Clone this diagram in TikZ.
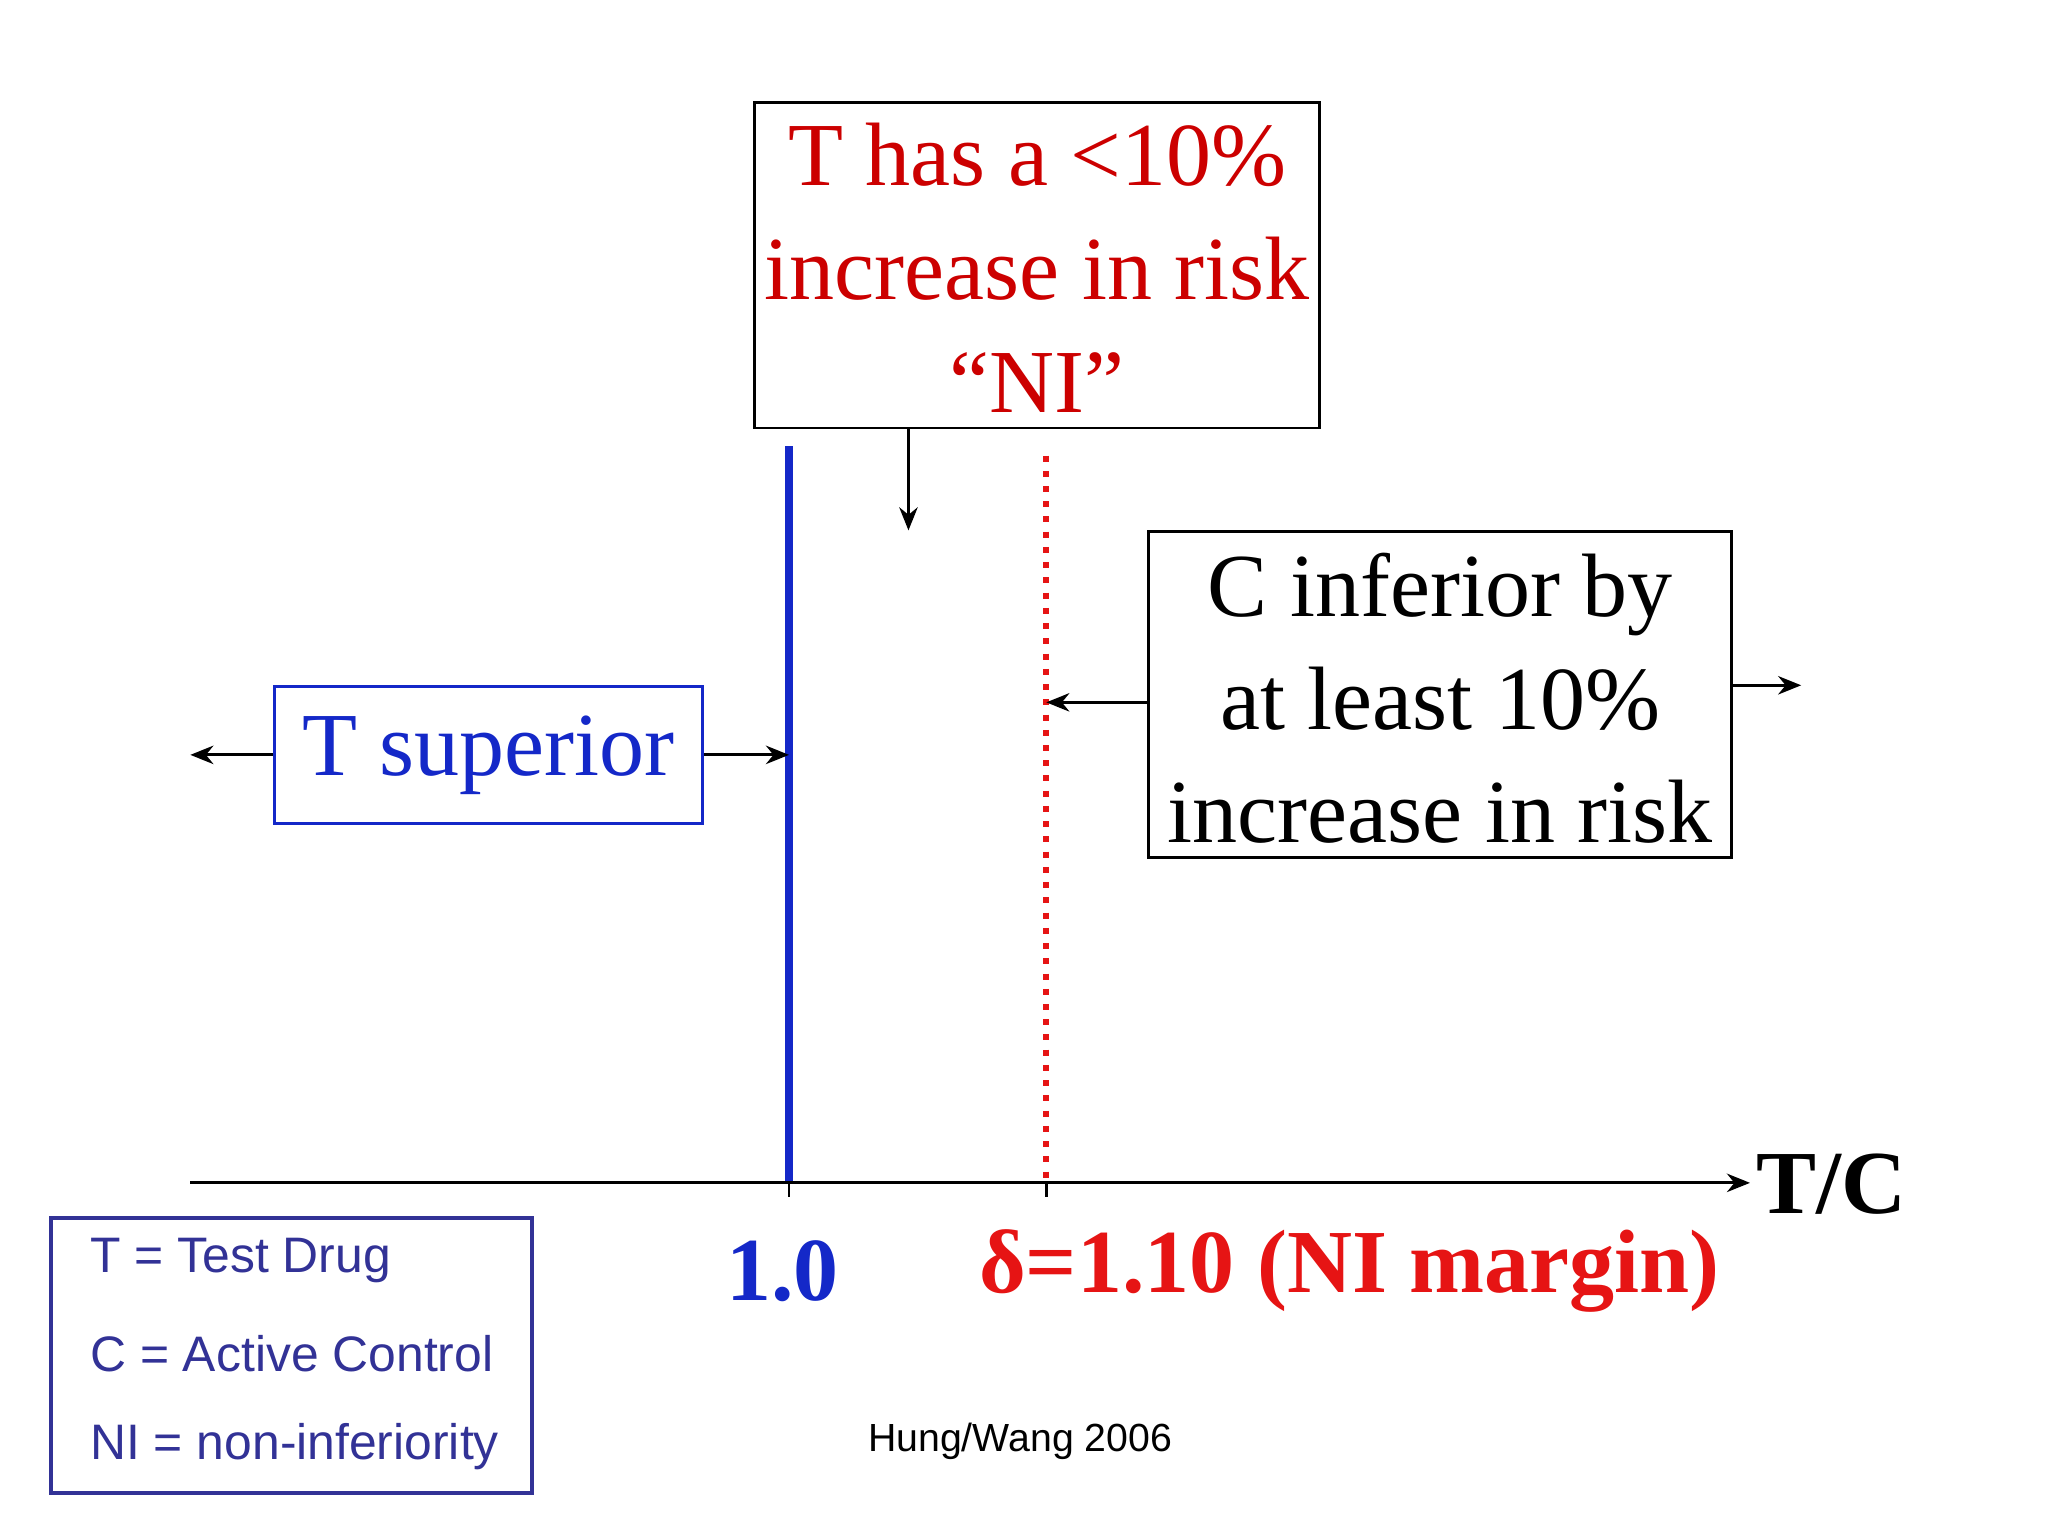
\documentclass[tikz,border=0pt]{standalone}
\usepackage{fontspec}
\usetikzlibrary{arrows.meta}
\setmainfont{Liberation Serif}
\setsansfont{Liberation Sans}
\begin{document}
\begin{tikzpicture}[x=0.01cm,y=-0.01cm,
  arr/.style={-{Stealth[length=5pt,width=4pt]},line width=0.6pt},
  bigtxt/.style={font=\fontsize{19.5}{24.5}\selectfont,align=center,inner sep=0pt}]
\definecolor{myred}{RGB}{204,0,0}
\definecolor{brred}{RGB}{230,20,20}
\definecolor{myblue}{RGB}{20,40,200}
\definecolor{legblue}{RGB}{50,50,150}
\useasboundingbox (0,0) rectangle (1560,1170);
% top box
\draw[line width=0.6pt] (575,78) rectangle (1005,326);
\node[bigtxt,text=myred] (top) at (790,204) {T has a <10\%\\increase in risk\\“NI”};
\coordinate (ta) at (692,326); \coordinate (tb) at (692,404);
\draw[arr] (ta) -- (tb);
% lines
\coordinate (b1) at (601,340); \coordinate (b2) at (601,901);
\draw[myblue,line width=1.7pt] (b1) -- (b2);
\coordinate (r1) at (797,347); \coordinate (r2) at (797,901);
\draw[brred,line width=1.3pt,dotted] (r1) -- (r2);
% axis
\coordinate (a0) at (145,901); \coordinate (a1) at (1333,901);
\draw[arr] (a0) -- (a1);
\draw[line width=0.6pt] (601,901) -- (601,912) (797,901) -- (797,912);
\node[font=\bfseries\fontsize{19.5}{24}\selectfont,inner sep=0pt] (tc) at (1395,902) {T/C};
\node[font=\bfseries\fontsize{19.5}{24}\selectfont,text=myblue,inner sep=0pt] (one) at (596,968) {1.0};
\node[font=\bfseries\fontsize{19.5}{24}\selectfont,text=brred,inner sep=0pt] (delta) at (1028,968) {δ=1.10 (NI margin)};
% T superior
\node[draw=myblue,line width=0.6pt,minimum width=3.26cm,minimum height=1.04cm,font=\fontsize{19.5}{24}\selectfont,text=myblue] (ts) at (372,575) {T superior};
\coordinate (tl) at (145,575); \coordinate (tr) at (601,575);
\draw[arr] (ts.west) -- (tl);
\draw[arr] (ts.east) -- (tr);
% C inferior
\draw[line width=0.6pt] (875,405) rectangle (1319,653);
\node[bigtxt] (ci) at (1097,532) {C inferior by\\at least 10\%\\increase in risk};
\coordinate (cl1) at (875,535); \coordinate (cl2) at (797,535);
\draw[arr] (cl1) -- (cl2);
\coordinate (cr1) at (1319,522); \coordinate (cr2) at (1372,522);
\draw[arr] (cr1) -- (cr2);
% legend
\draw[legblue,line width=0.8pt] (39,928) rectangle (405,1137);
\begin{scope}[every node/.style={font=\sffamily\fontsize{10.8}{13}\selectfont,text=legblue,anchor=west,inner sep=0pt}]
\node (l1) at (68,960) {T = Test Drug};
\node (l2) at (68,1031) {C = Active Control};
\node (l3) at (68,1102) {NI = non-inferiority};
\end{scope}
\node[font=\sffamily\fontsize{8.5}{10}\selectfont,inner sep=0pt] (hw) at (777,1098) {Hung/Wang 2006};
\end{tikzpicture}
\end{document}
